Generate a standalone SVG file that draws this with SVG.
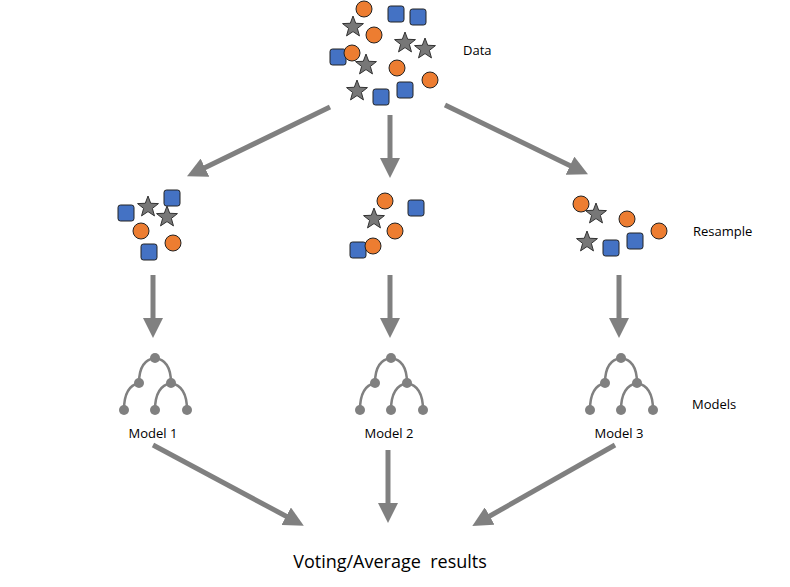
<svg xmlns="http://www.w3.org/2000/svg" xmlns:xlink="http://www.w3.org/1999/xlink" width="790" height="587" viewBox="0 0 790 587">
<style>
.c{fill:#ED7D31;stroke:#222;stroke-width:1}
.s{fill:#4472C4;stroke:#222;stroke-width:1}
.st{fill:#777;stroke:#333;stroke-width:1}
.ar{stroke:#808080;stroke-width:5;fill:none;marker-end:url(#ah)}
.t{font-family:"Open Sans","Liberation Sans",sans-serif;font-size:13px;fill:#000}
.tb{stroke:#808080;stroke-width:2.5;fill:none}
.tn{fill:#808080}
</style>
<defs>
<marker id="ah" markerWidth="4" markerHeight="4" refX="2" refY="2" orient="auto" markerUnits="strokeWidth"><path d="M0,0 L4,2 L0,4 Z" fill="#808080"/></marker>
<circle id="ci" class="c" r="8"/>
<rect id="sq" class="s" x="-8" y="-8" width="16" height="16" rx="2.5"/>
<path id="sr" class="st" d="M0,-11 L2.7,-3.72 L10.46,-3.4 L4.37,1.42 L6.47,8.9 L0,4.6 L-6.47,8.9 L-4.37,1.42 L-10.46,-3.4 L-2.7,-3.72 Z"/>
<g id="tree">
<path class="tb" d="M-16,25 Q-16,2 0,0 Q16,2 16,25 M-31,52 Q-31,28 -16,25 M0,52 Q0,28 16,25 Q32,28 32,52"/>
<circle class="tn" cx="0" cy="0" r="5"/><circle class="tn" cx="-16" cy="25" r="5"/><circle class="tn" cx="16" cy="25" r="5"/>
<circle class="tn" cx="-31" cy="52" r="5"/><circle class="tn" cx="0" cy="52" r="5"/><circle class="tn" cx="32" cy="52" r="5"/>
</g>
</defs>
<g id="data">
<use href="#ci" x="364" y="9"/><use href="#ci" x="374" y="35"/><use href="#sq" x="338" y="57"/><use href="#ci" x="352" y="53"/><use href="#ci" x="397" y="68"/><use href="#ci" x="430" y="80"/>
<use href="#sq" x="396" y="14"/><use href="#sq" x="418" y="17"/><use href="#sq" x="381" y="97"/><use href="#sq" x="405" y="90"/>
<use href="#sr" x="353" y="27"/><use href="#sr" x="405" y="43"/><use href="#sr" x="425" y="49"/><use href="#sr" x="366" y="65"/><use href="#sr" x="357" y="91"/>
<text class="t" x="463" y="55">Data</text>
</g>
<g id="resample1">
<use href="#sq" x="126" y="213"/><use href="#sq" x="172" y="198"/><use href="#sq" x="149" y="252"/>
<use href="#sr" x="148" y="207"/><use href="#sr" x="167" y="217"/>
<use href="#ci" x="141" y="231"/><use href="#ci" x="173" y="243"/>
</g>
<g id="resample2">
<use href="#ci" x="385" y="201"/><use href="#ci" x="395" y="231"/><use href="#sq" x="416" y="208"/><use href="#sq" x="358" y="250"/><use href="#ci" x="373" y="246"/>
<use href="#sr" x="374" y="219"/>
</g>
<g id="resample3">
<use href="#ci" x="581" y="204"/><use href="#ci" x="627" y="219"/><use href="#ci" x="659" y="231"/>
<use href="#sr" x="596" y="214"/><use href="#sr" x="587" y="242"/>
<use href="#sq" x="611" y="248"/><use href="#sq" x="635" y="241"/>
<text class="t" x="693" y="236">Resample</text>
</g>
<g id="model1"><use href="#tree" x="155" y="358"/><text class="t" x="153" y="438" text-anchor="middle">Model 1</text></g>
<g id="model2"><use href="#tree" x="391" y="358"/><text class="t" x="389" y="438" text-anchor="middle">Model 2</text></g>
<g id="model3"><use href="#tree" x="621" y="358"/><text class="t" x="619" y="438" text-anchor="middle">Model 3</text><text class="t" x="692" y="409">Models</text></g>
<g id="result"><text x="390" y="568" text-anchor="middle" font-family="Open Sans, Liberation Sans, sans-serif" font-size="18" xml:space="preserve">Voting/Average  results</text></g>
<g id="connectors">
<line class="ar" x1="330" y1="107" x2="196" y2="172"/>
<line class="ar" x1="390" y1="115" x2="390" y2="168"/>
<line class="ar" x1="445" y1="105" x2="579" y2="170"/>
<line class="ar" x1="153" y1="275" x2="153" y2="328"/>
<line class="ar" x1="390" y1="275" x2="390" y2="328"/>
<line class="ar" x1="619" y1="275" x2="619" y2="328"/>
<line class="ar" x1="153" y1="445" x2="295" y2="521"/>
<line class="ar" x1="388" y1="450" x2="388" y2="513"/>
<line class="ar" x1="615" y1="445" x2="481" y2="521"/>
</g>
</svg>
